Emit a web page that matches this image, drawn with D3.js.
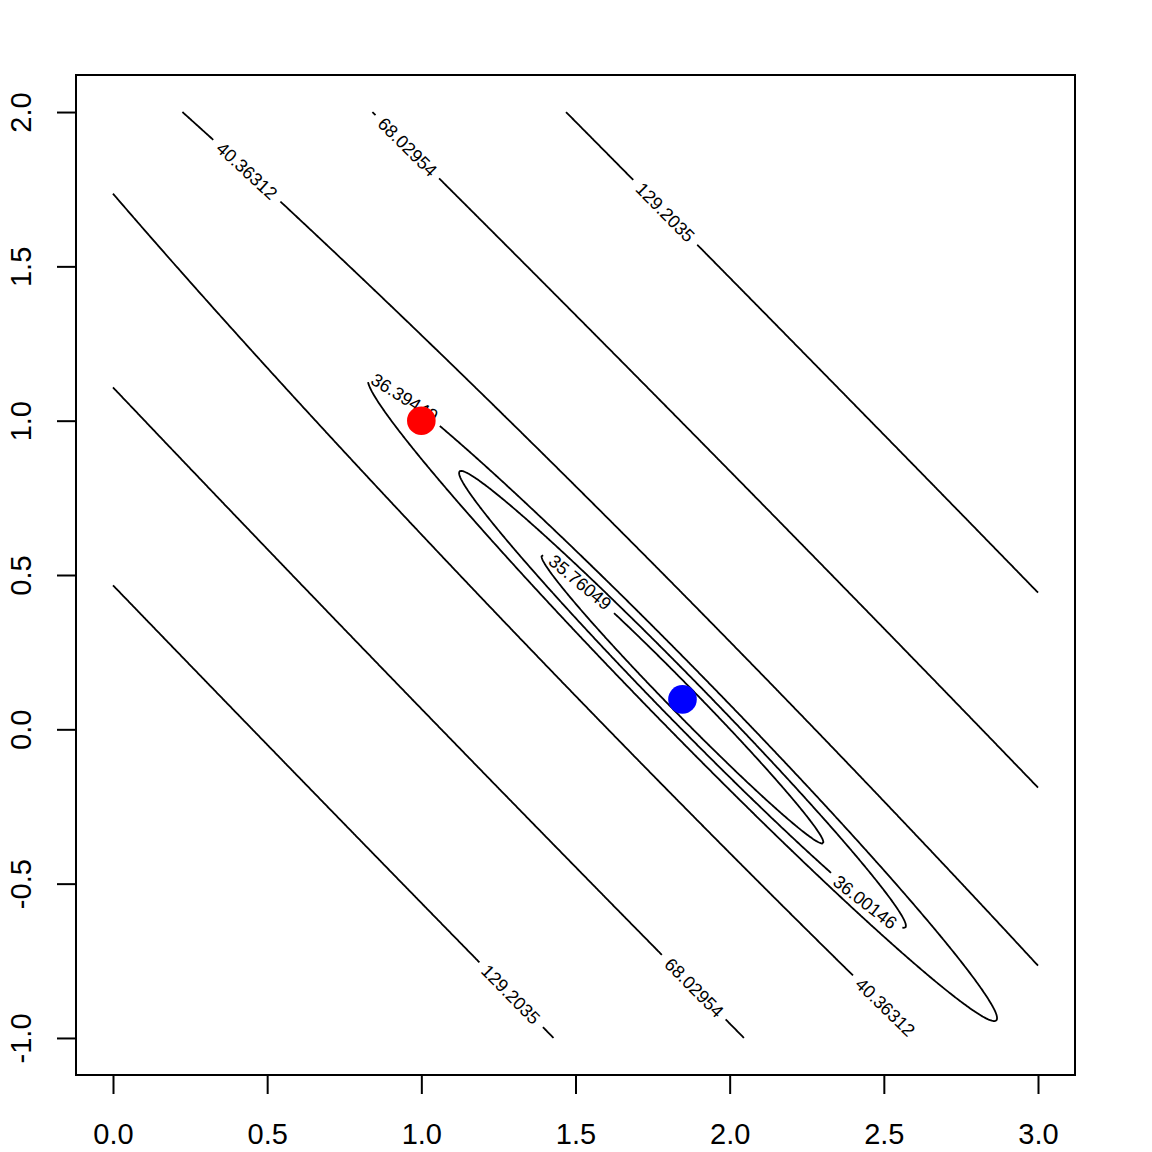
<!DOCTYPE html>
<html>
<head>
<meta charset="utf-8">
<script src="https://cdn.jsdelivr.net/npm/d3@7"></script>
<style>
  body { margin: 0; background: #fff; }
  svg { display: block; }
</style>
</head>
<body>
<div class="canvas"></div>
<script>
// grid the surface is evaluated on
const aRange = [0, 3];
const bRange = [-1, 2];
const gridStep = 0.005;

// residual sum of squares surface:
// sse(a, b) = sseMin + n * (da + xbar * db)^2 + sxx * db^2
const estimate = [1.847, 0.097];   // blue point
const truth = [1, 1];              // red point
const sseMin = 35.6012;
const sseShape = [42.2, 0.97, 0.73]; // n, xbar, sxx

const levels = [35.76049, 36.00146, 36.39449, 40.36312, 68.02954, 129.2035];
const levelLabels = ['35.76049', '36.00146', '36.39449', '40.36312', '68.02954', '129.2035'];

// where the contour labels sit: level index, a, b
const labelLevel = [0, 1, 2, 3, 3, 4, 4, 5, 5];
const labelA = [1.515, 2.442, 0.944, 0.428, 2.501, 0.937, 1.878, 1.768, 1.288];
const labelB = [0.477, -0.553, 1.070, 1.805, -0.903, 1.870, -0.842, 1.650, -0.858];

const xTicks = [0, 0.5, 1, 1.5, 2, 2.5, 3];
const yTicks = [-1, -0.5, 0, 0.5, 1, 1.5, 2];

const width = 1152, height = 1152;
const plot = {left: 76, top: 75, right: 1075, bottom: 1075};
const font = '"Liberation Sans", Arial, sans-serif';

const x = d3.scaleLinear().domain([-0.12, 3.12]).range([plot.left, plot.right]);
const y = d3.scaleLinear().domain([-1.12, 2.12]).range([plot.bottom, plot.top]);

const svg = d3.select('.canvas')
    .append('svg')
    .attr('width', width)
    .attr('height', height);

svg.append('rect')
    .attr('width', width)
    .attr('height', height)
    .attr('fill', '#fff');

// evaluate the surface on the grid
const [n, xbar, sxx] = sseShape;
const sse = (a, b) => {
    const da = a - estimate[0], db = b - estimate[1];
    const u = da + xbar * db;
    return sseMin + n * u * u + sxx * db * db;
};
const nx = Math.round((aRange[1] - aRange[0]) / gridStep) + 1;
const ny = Math.round((bRange[1] - bRange[0]) / gridStep) + 1;
const values = new Array(nx * ny);
for (let j = 0; j < ny; j++) {
    for (let i = 0; i < nx; i++) {
        values[j * nx + i] = sse(aRange[0] + i * gridStep, bRange[0] + j * gridStep);
    }
}

const contours = d3.contours()
    .size([nx, ny])
    .thresholds(levels)(values);

// turn the filled rings into plain lines, dropping the grid border
const inside = p => p[0] > 0 && p[0] < nx && p[1] > 0 && p[1] < ny;
const toPx = p => [
    x(aRange[0] + (p[0] - 0.5) * gridStep),
    y(bRange[0] + (p[1] - 0.5) * gridStep)
];

const lines = [];
contours.forEach(c => {
    const li = levels.indexOf(c.value);
    c.coordinates.forEach(poly => poly.forEach(ring => {
        const pts = ring.slice(0, -1);
        const start = pts.findIndex(p => !inside(p));
        if (start < 0) {
            lines.push({level: li, pts: pts.map(toPx), closed: true});
            return;
        }
        let cur = [];
        for (let k = 1; k <= pts.length; k++) {
            const p = pts[(start + k) % pts.length];
            if (inside(p)) cur.push(toPx(p));
            else {
                if (cur.length > 1) lines.push({level: li, pts: cur, closed: false});
                cur = [];
            }
        }
        if (cur.length > 1) lines.push({level: li, pts: cur, closed: false});
    }));
});

const dist = (p, q) => Math.hypot(p[0] - q[0], p[1] - q[1]);
const labelPad = 7;

const labelG = svg.append('g')
    .attr('font-family', font)
    .attr('font-size', 18)
    .attr('fill', '#000');

labelLevel.forEach((li, k) => {
    const ax = x(labelA[k]), ay = y(labelB[k]);
    let best = null, bd = Infinity;
    lines.forEach(l => {
        if (l.level !== li) return;
        l.pts.forEach((p, idx) => {
            const d = (p[0] - ax) ** 2 + (p[1] - ay) ** 2;
            if (d < bd) { bd = d; best = {l, idx}; }
        });
    });
    if (!best) return;

    const text = labelG.append('text')
        .attr('text-anchor', 'middle')
        .attr('dy', '0.35em')
        .text(levelLabels[li]);
    const half = text.node().getComputedTextLength() / 2 + labelPad;

    const l = best.l, m = l.pts.length, idx = best.idx;
    const step = (i, dir) => l.closed ? (i + dir + m) % m : i + dir;
    const walk = dir => {
        let i = idx, arc = 0;
        while (true) {
            const nxt = step(i, dir);
            if (nxt < 0 || nxt >= m || nxt === idx) break;
            arc += dist(l.pts[i], l.pts[nxt]);
            if (arc > half) break;
            i = nxt;
        }
        return i;
    };
    const lo = walk(-1), hi = walk(1);
    const p0 = l.pts[lo], p1 = l.pts[hi];
    let angle = Math.atan2(p1[1] - p0[1], p1[0] - p0[0]) * 180 / Math.PI;
    if (angle > 90) angle -= 180;
    if (angle <= -90) angle += 180;
    const c = l.pts[idx];
    text.attr('transform', `translate(${c[0]},${c[1]}) rotate(${angle})`);

    // open a gap in the line under the label
    if (l.closed) {
        const rest = [];
        for (let i = step(hi, 1); i !== lo; i = step(i, 1)) rest.push(l.pts[i]);
        l.pts = rest;
        l.closed = false;
    } else {
        const after = l.pts.slice(hi + 1);
        l.pts = l.pts.slice(0, lo);
        if (after.length > 1) lines.push({level: li, pts: after, closed: false});
    }
});

const line = d3.line();
svg.insert('g', 'g')
    .attr('fill', 'none')
    .attr('stroke', '#000')
    .attr('stroke-width', 1.8)
    .selectAll('path')
    .data(lines.filter(l => l.pts.length > 1))
    .enter()
    .append('path')
    .attr('d', l => line(l.closed ? l.pts.concat([l.pts[0]]) : l.pts));

// the two parameter points
svg.append('circle')
    .attr('cx', x(truth[0]))
    .attr('cy', y(truth[1]))
    .attr('r', 14.3)
    .attr('fill', '#ff0000');

svg.append('circle')
    .attr('cx', x(estimate[0]))
    .attr('cy', y(estimate[1]))
    .attr('r', 14.3)
    .attr('fill', '#0000ff');

// axes
const xAxis = svg.append('g')
    .attr('transform', `translate(0,${plot.bottom})`)
    .call(d3.axisBottom(x).tickValues(xTicks).tickFormat(d => d.toFixed(1)).tickSize(19).tickPadding(29))
    .attr('font-family', font)
    .attr('font-size', 29);
xAxis.select('.domain').remove();
xAxis.selectAll('line').attr('stroke', '#000').attr('stroke-width', 2);
xAxis.selectAll('text').attr('fill', '#000');

const yAxis = svg.append('g')
    .attr('transform', `translate(${plot.left},0)`)
    .call(d3.axisLeft(y).tickValues(yTicks).tickFormat(d => d.toFixed(1)).tickSize(19))
    .attr('font-family', font)
    .attr('font-size', 29);
yAxis.select('.domain').remove();
yAxis.selectAll('line').attr('stroke', '#000').attr('stroke-width', 2);
yAxis.selectAll('text')
    .attr('x', null)
    .attr('dy', null)
    .attr('fill', '#000')
    .attr('text-anchor', 'middle')
    .attr('transform', 'translate(-45,0) rotate(-90)');

svg.append('rect')
    .attr('x', plot.left)
    .attr('y', plot.top)
    .attr('width', plot.right - plot.left)
    .attr('height', plot.bottom - plot.top)
    .attr('fill', 'none')
    .attr('stroke', '#000')
    .attr('stroke-width', 2);
</script>
</body>
</html>
